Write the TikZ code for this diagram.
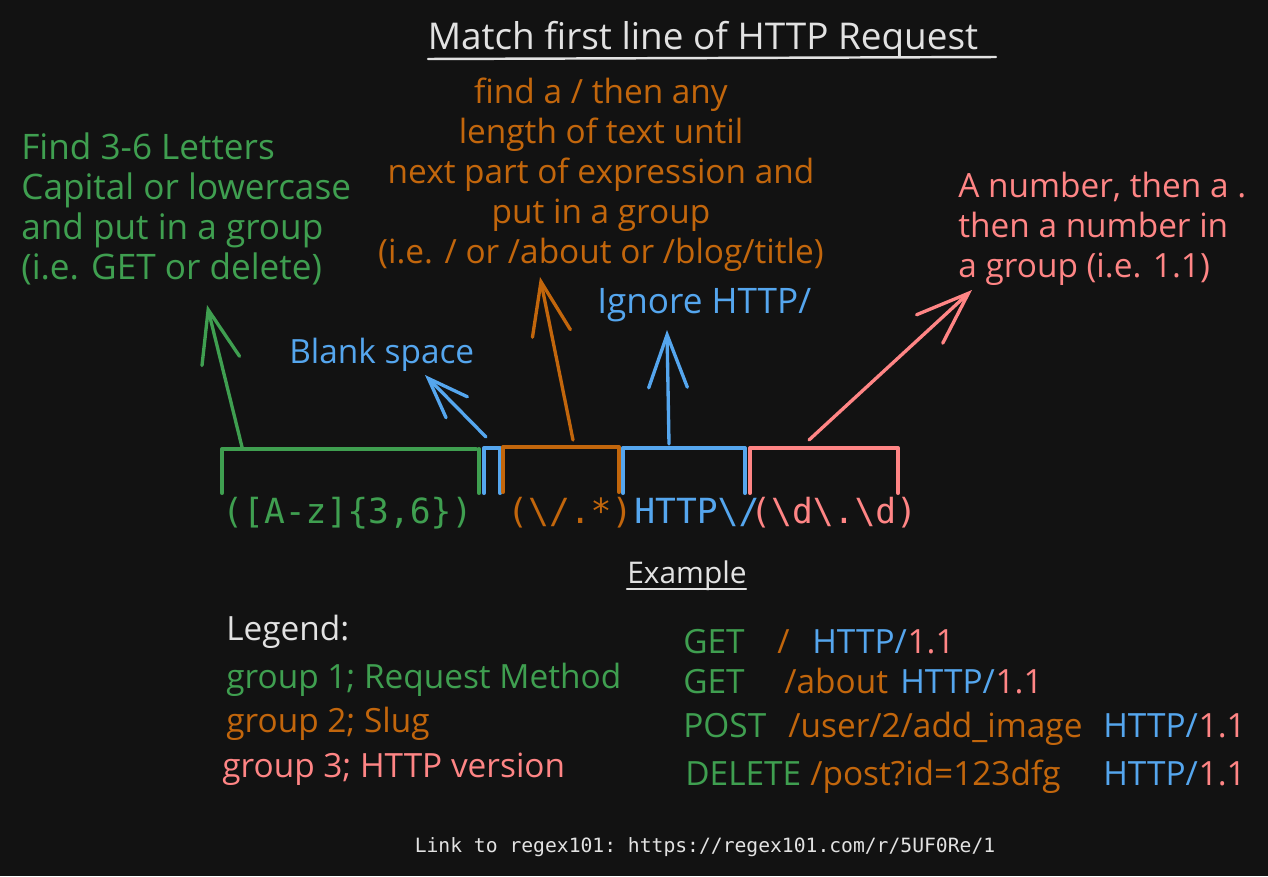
\documentclass[tikz,border=0pt]{standalone}
\usepackage{fontspec}
\setmainfont{Open Sans}
\setmonofont{DejaVu Sans Mono}
\usepackage{tikz}
\usetikzlibrary{positioning}
\usetikzlibrary{arrows.meta}
\definecolor{bgdark}{HTML}{121212}
\definecolor{grp}{HTML}{3F9F50}
\definecolor{slug}{HTML}{C2660C}
\definecolor{httpblue}{HTML}{55A6EE}
\definecolor{ver}{HTML}{FF8585}
\definecolor{chalk}{HTML}{E2E2E2}
\tikzstyle{note} = [inner sep=0pt, anchor=base west, font=\fontsize{19}{22.7}\selectfont]
\tikzstyle{regex} = [inner sep=0pt, anchor=base west, font=\ttfamily\fontsize{19.7}{22}\selectfont]
\tikzstyle{brace} = [draw, line width=2.3pt, line cap=round, line join=round]
\tikzstyle{pointer} = [draw, line width=1.9pt, line cap=round,
-{Straight Barb[length=30pt,width=22pt,line cap=round]}]

\begin{document}
\begin{tikzpicture}[x=0.02cm, y=-0.02cm]
      \fill[bgdark] (0,0) rectangle (1268,876);
      \useasboundingbox (0,0) rectangle (1268,876);
      %% Heading
      \node [note, anchor=base, text=chalk, font=\fontsize{21}{24}\selectfont] (title) at (703,49) {Match first line of HTTP Request};
      \draw [chalk, line width=1.4pt, line cap=round] (428,59) -- (996,57);
      %% Explanations (base = last line)
      \node [note, anchor=base, align=center, text=slug] (slugtxt) at (601,263)
            {find a / then any\\length of text until\\next part of expression and\\put in a group\\(i.e. / or /about or /blog/title)};
      \node [note, align=left, text=grp, font=\fontsize{20}{22.7}\selectfont] (methtxt) at (21,279)
            {Find 3-6 Letters\\Capital or lowercase\\and put in a group\\(i.e. GET or delete)};
      \node [note, align=left, text=ver] (vertxt) at (958,277)
            {A number, then a .\\then a number in\\a group (i.e. 1.1)};
      \node [note, text=httpblue] (blanktxt) at (289,363) {Blank space};
      \node [note, text=httpblue, font=\fontsize{20}{22.7}\selectfont] (httptxt) at (597,313) {Ignore HTTP/};
      %% Expression
      \node [regex, text=grp] (re1) at (222,523) {([A-z]\{3,6\})};
      \node [regex, text=slug] (re2) at (507,523) {(\textbackslash/.*)};
      \node [regex, text=httpblue] (re3) at (634,523) {HTTP\textbackslash/};
      \node [regex, text=ver] (re4) at (750,523) {(\textbackslash d\textbackslash.\textbackslash d)};
      %% Brackets
      \path [brace, grp] (222,493) -- (222,449) -- (476,449) (479,449) -- (479,493);
      \path [brace, httpblue] (484,493) -- (484,448) -- (500,448) -- (500,493);
      \path [brace, slug] (503,492) -- (503,447) -- (619,447) -- (619,492);
      \path [brace, httpblue] (623,493) -- (623,448) -- (745,448) -- (745,493);
      \path [brace, ver] (750,493) -- (750,448) -- (898,448) -- (898,493);
      %% Arrows
      \coordinate (gFoot) at (242,447);
      \coordinate (gTip) at (207,305);
      \coordinate (bFoot) at (486,437);
      \coordinate (bTip) at (425,375);
      \coordinate (oFoot) at (573,440);
      \coordinate (oTip) at (540,277);
      \coordinate (hFoot) at (669,444);
      \coordinate (hTip) at (667,330);
      \coordinate (rFoot) at (809,440);
      \coordinate (rTip) at (972,290);
      \path [pointer, grp] (gFoot) -- (gTip);
      \path [draw, line width=1.9pt, line cap=round, httpblue,
             -{Straight Barb[length=23pt,width=17pt,line cap=round]}] (bFoot) -- (bTip);
      \path [pointer, slug] (oFoot) -- (oTip);
      \path [pointer, httpblue] (hFoot) -- (hTip);
      \path [pointer, ver] (rFoot) -- (rTip);
      %% Example
      \node [note, anchor=base, text=chalk, font=\fontsize{17}{20}\selectfont] (extitle) at (687,583) {Example};
      \draw [chalk, line width=1.4pt, line cap=round] (627,589) -- (746,589);
      \node [note, text=chalk] (legend) at (226,640) {Legend:};
      \node [note, text=grp] (leg1) at (226,688) {group 1; Request Method};
      \node [note, text=slug] (leg2) at (226,732) {group 2; Slug};
      \node [note, text=ver] (leg3) at (222,777) {group 3; HTTP version};
      % GET /
      \node [note, text=grp] (m1) at (683,653) {GET};
      \node [note, text=slug] (s1) at (777,653) {/};
      \node [note, text=httpblue] (h1) at (812,653) {HTTP/};
      \node [note, base right=0pt of h1, text=ver] (v1) {1.1};
      % GET /about
      \node [note, text=grp] (m2) at (683,693) {GET};
      \node [note, text=slug] (s2) at (784,693) {/about};
      \node [note, text=httpblue] (h2) at (900,693) {HTTP/};
      \node [note, base right=0pt of h2, text=ver] (v2) {1.1};
      % POST
      \node [note, text=grp] (m3) at (683,737) {POST};
      \node [note, text=slug] (s3) at (788,737) {/user/2/add\_image};
      \node [note, text=httpblue] (h3) at (1103,737) {HTTP/};
      \node [note, base right=0pt of h3, text=ver] (v3) {1.1};
      % DELETE
      \node [note, text=grp] (m4) at (685,785) {DELETE};
      \node [note, text=slug] (s4) at (810,785) {/post?id=123dfg};
      \node [note, text=httpblue] (h4) at (1103,785) {HTTP/};
      \node [note, base right=0pt of h4, text=ver] (v4) {1.1};
      %% Link
      \node [inner sep=0pt, anchor=base, text=chalk, font=\ttfamily\fontsize{11.2}{13}\selectfont] (link) at (705,852)
            {Link to regex101: https://regex101.com/r/5UF0Re/1};
\end{tikzpicture}
\end{document}
